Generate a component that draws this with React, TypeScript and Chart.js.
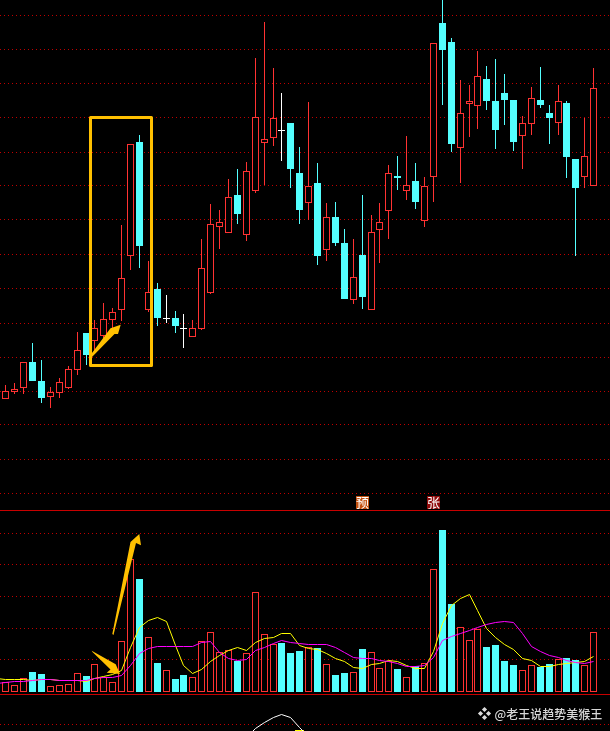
import React, { useEffect, useRef } from "react";
import { Chart, registerables } from "chart.js";

Chart.register(...registerables);

// Daily candles: body top, body bottom, high, low (price units)
const highs = [3.46,3.48,3.69,3.88,3.71,3.44,3.53,3.65,3.99,3.98,4.11,4.28,4.23,5.06,5.87,5.96,4.70,4.48,4.36,4.20,4.17,4.11,4.92,5.27,5.21,5.52,5.62,5.69,6.73,7.09,6.63,6.38,6.08,5.84,6.29,5.68,5.28,5.29,5.02,4.92,5.36,5.16,5.28,5.66,5.75,5.95,5.68,5.54,6.88,7.33,6.93,6.51,6.46,6.80,6.65,6.72,6.57,6.31,6.15,6.44,6.64,6.26,6.46,6.30,5.72,6.13,6.63];
const lows = [3.32,3.37,3.37,3.50,3.28,3.23,3.33,3.42,3.56,3.66,3.79,3.91,4.01,4.10,4.61,4.63,4.19,4.05,4.08,3.98,3.83,3.94,4.01,4.37,4.82,4.98,5.07,4.90,5.38,5.46,5.85,5.70,5.43,5.07,5.11,4.66,4.70,4.85,4.32,4.27,4.22,4.21,4.68,4.92,5.41,5.31,5.22,5.04,5.29,6.26,5.79,5.48,5.94,6.02,6.21,5.82,6.06,5.80,5.62,5.96,6.23,5.87,5.96,5.53,4.75,5.43,5.45];
const opens = [3.32,3.39,3.43,3.69,3.50,3.34,3.38,3.43,3.61,3.98,3.90,3.95,4.11,4.21,4.75,5.89,4.21,4.42,4.12,4.13,4.03,3.94,4.02,4.38,5.04,4.98,5.36,4.96,5.40,5.88,5.93,6.01,6.08,5.58,5.28,5.48,4.81,5.14,4.88,4.31,4.76,4.21,5.01,5.20,5.55,5.40,5.50,5.10,5.54,7.08,6.89,5.83,6.27,6.25,6.52,6.30,6.38,6.31,5.95,6.07,6.31,6.18,6.08,6.28,5.72,5.54,5.45];
const closes = [3.40,3.42,3.69,3.50,3.33,3.39,3.49,3.62,3.81,3.76,4.03,4.12,4.19,4.53,5.87,4.85,4.39,4.13,4.13,4.05,4.02,4.03,4.63,5.07,5.09,5.34,5.17,5.60,6.14,5.92,6.13,6.00,5.62,5.21,5.45,4.75,5.14,4.88,4.32,4.54,4.34,4.99,5.09,5.58,5.53,5.46,5.29,5.45,6.88,6.81,5.87,6.18,6.30,6.55,6.30,6.01,6.31,5.89,6.08,6.33,6.26,6.13,6.30,5.74,5.43,5.75,6.43];

// Volume panel
const volumes = [10,7,14,20,18,6,7,8,19,16,28,15,10,51,133,113,55,29,22,13,17,15,51,60,40,42,31,39,100,58,48,49,39,41,45,44,28,17,19,20,43,40,24,31,23,15,26,29,123,162,88,65,52,63,45,47,31,27,22,27,25,28,33,34,32,27,60];
const volFast = [13,13,13,12,13,13,12,12,12,11,14,16,18,22,45,65,72,75,71,47,27,19,23,31,37,42,45,42,50,54,55,59,59,47,44,43,39,34,31,25,24,28,29,32,31,27,24,24,41,69,87,94,98,82,64,55,48,43,34,32,26,26,28,29,30,31,36];
const volSlow = [10,11,11,12,13,13,12,12,12,12,14,15,15,17,27,39,44,46,46,46,46,46,50,51,40,34,32,33,42,45,49,52,50,49,48,48,48,45,40,35,34,34,32,31,29,26,26,27,35,52,56,59,62,65,68,70,71,70,59,46,41,37,35,32,30,29,31];
const volFastBefore = 14;
const volSlowBefore = 9;

// Lower indicator, just its top is visible
const indicatorIdx = [27,28,29,30,31,32,33,34];
const indicatorVals = [-6,3,9,14,17,14,4,-5];
const indicatorBarIdx = 33;
const indicatorBarVal = 1.2;

// Grid levels
const priceGrid = [7.15,6.81,6.47,6.13,5.79,5.45,5.11,4.76,4.42,4.08,3.74,3.40,3.06,2.72,2.38];
const volumeGrid = [159,128,96,64,33,-32];
const panelEdges = [221,37];

// Signal tags
const tags = [{ text: "预", idx: 40, color: "#C2500F" }, { text: "张", idx: 48, color: "#8E0A0A" }];
const watermark = "@老王说趋势美猴王";

const RED = "#FF3232";
const CYAN = "#54FFFF";
const WHITE = "#FFFFFF";
const ORANGE = "#FFC000";
const GRID = "#C00000";

const idx = highs.map((_, i) => i);
const isDoji = (i: number) => Math.abs(opens[i] - closes[i]) < 0.015;
const candleColor = (i: number) => (isDoji(i) ? WHITE : closes[i] > opens[i] ? RED : CYAN);
const volColor = (i: number) => (closes[i] > opens[i] ? RED : CYAN);

function setTicks(values: number[]) {
  return (scale: any) => {
    scale.ticks = values.map((value) => ({ value }));
  };
}

function axis(min: number, max: number, values: number[], color: string, dash: number[]) {
  return {
    type: "linear",
    position: "left",
    min,
    max,
    afterBuildTicks: setTicks(values),
    afterFit: (s: any) => { s.width = 0; },
    ticks: { display: false },
    border: { display: false, dash },
    grid: { color, lineWidth: 1, drawTicks: false },
  };
}

const snapPlugin = {
  id: "snap",
  afterDatasetsUpdate(chart: any) {
    chart.getSortedVisibleDatasetMetas().forEach((meta: any) => {
      if (meta.type === "bar") {
        const w = chart.data.datasets[meta.index].barThickness;
        meta.data.forEach((el: any) => {
          el.x = Math.floor(el.x) + 0.5;
          el.y = Math.round(el.y);
          el.base = Math.round(el.base);
          el.height = el.base - el.y;
          el.width = w;
        });
      } else if (meta.type === "line") {
        meta.data.forEach((el: any) => {
          el.x = Math.floor(el.x) + 0.5;
          el.y = Math.floor(el.y) + 0.5;
        });
      }
    });
  },
};

function poly(ctx: CanvasRenderingContext2D, pts: number[][]) {
  ctx.beginPath();
  pts.forEach(([x, y], i) => (i ? ctx.lineTo(x, y) : ctx.moveTo(x, y)));
  ctx.closePath();
  ctx.fill();
}

const overlayPlugin = {
  id: "overlay",
  afterDraw(chart: any) {
    const ctx: CanvasRenderingContext2D = chart.ctx;
    const xs = chart.scales.x;
    ctx.save();
    // highlight frame
    ctx.strokeStyle = ORANGE;
    ctx.lineWidth = 3;
    ctx.lineJoin = "round";
    ctx.strokeRect(90.5, 117.5, 61, 248);
    // arrows
    ctx.fillStyle = ORANGE;
    poly(ctx, [[90.5, 355], [110.5, 328.3], [120.7, 324.7], [118, 334], [114.5, 334], [92, 357]]);
    poly(ctx, [[112.3, 634], [130.5, 542], [139.3, 534], [141, 545.3], [136, 543], [113.5, 635]]);
    poly(ctx, [[91.7, 650.7], [115.7, 664.3], [120, 674], [106.7, 672.7], [110.5, 669.5], [92.5, 652]]);
    // tags
    ctx.textAlign = "center";
    ctx.textBaseline = "middle";
    ctx.font = "13px 'Noto Sans CJK SC'";
    tags.forEach((t) => {
      const cx = Math.floor(xs.getPixelForValue(t.idx)) + 0.5;
      ctx.fillStyle = t.color;
      ctx.fillRect(cx - 6.5, 496, 13, 13);
      ctx.fillStyle = "#FFFFFF";
      ctx.fillText(t.text, cx, 502.5);
    });
    // watermark
    const ix = 484.5, iy = 713.5;
    ctx.fillStyle = "#DADADA";
    [[0, -4], [-4, 0], [4, 0], [0, 4]].forEach(([dx, dy]) => {
      poly(ctx, [[ix + dx, iy + dy - 2.6], [ix + dx + 2.6, iy + dy], [ix + dx, iy + dy + 2.6], [ix + dx - 2.6, iy + dy]]);
    });
    ctx.textAlign = "left";
    ctx.font = "500 12px 'Noto Sans CJK SC'";
    ctx.fillStyle = "#D8D8D8";
    ctx.fillText(watermark, 494.5, 714);
    ctx.restore();
  },
};

export default function App() {
  const ref = useRef<HTMLCanvasElement>(null);
  useEffect(() => {
    document.body.style.margin = "0";
    document.body.style.background = "#000";
    const chart = new Chart(ref.current as HTMLCanvasElement, {
      type: "bar",
      data: {
        datasets: [
          {
            label: "wick",
            yAxisID: "price",
            order: 6,
            grouped: false,
            barThickness: 1,
            inflateAmount: 0,
            borderWidth: 0,
            backgroundColor: idx.map(candleColor),
            data: idx.map((i) => ({ x: i, y: [lows[i], highs[i]] })),
          },
          {
            label: "body",
            yAxisID: "price",
            order: 5,
            grouped: false,
            barThickness: 7,
            inflateAmount: 0,
            borderWidth: 1,
            borderSkipped: false,
            borderColor: idx.map(candleColor),
            backgroundColor: idx.map((i) => (candleColor(i) === RED ? "#000000" : candleColor(i))),
            data: idx.map((i) => ({ x: i, y: [opens[i], closes[i]] })),
          },
          {
            label: "volume",
            yAxisID: "volume",
            order: 4,
            grouped: false,
            barThickness: 7,
            inflateAmount: 0,
            borderWidth: 1,
            borderSkipped: false,
            borderColor: idx.map(volColor),
            backgroundColor: idx.map((i) => (volColor(i) === RED ? "#000000" : CYAN)),
            data: idx.map((i) => ({ x: i, y: volumes[i] })),
          },
          {
            type: "line",
            label: "MA5",
            yAxisID: "volume",
            order: 2,
            borderColor: "#FFFF00",
            borderWidth: 1,
            pointRadius: 0,
            tension: 0,
            data: [{ x: -1, y: volFastBefore }, ...idx.map((i) => ({ x: i, y: volFast[i] }))],
          },
          {
            type: "line",
            label: "MA10",
            yAxisID: "volume",
            order: 1,
            borderColor: "#FF00FF",
            borderWidth: 1,
            pointRadius: 0,
            tension: 0,
            data: [{ x: -1, y: volSlowBefore }, ...idx.map((i) => ({ x: i, y: volSlow[i] }))],
          },
          {
            type: "line",
            label: "indicator",
            yAxisID: "lower",
            order: 3,
            borderColor: WHITE,
            borderWidth: 1,
            pointRadius: 0,
            tension: 0,
            data: indicatorIdx.map((i, k) => ({ x: i, y: indicatorVals[k] })),
          },
          {
            label: "indicatorBar",
            yAxisID: "lower",
            order: 3,
            grouped: false,
            barThickness: 9,
            inflateAmount: 0,
            borderWidth: 0,
            backgroundColor: "#FFFF00",
            data: [{ x: indicatorBarIdx, y: indicatorBarVal }],
          },
        ],
      } as any,
      options: {
        animation: false,
        responsive: false,
        maintainAspectRatio: false,
        layout: { padding: 0 },
        plugins: { legend: { display: false }, tooltip: { enabled: false } },
        scales: {
          x: { type: "linear", display: false, offset: false, min: -5.85 / 8.907, max: (610 - 5.85) / 8.907 },
          price: axis(0, 7.31, priceGrid, GRID, [1, 3]),
          volume: axis(-39, 692, volumeGrid, GRID, [1, 3]),
          lower: axis(0, 731, panelEdges, "#C80000", []),
        },
      } as any,
      plugins: [snapPlugin, overlayPlugin],
    });
    return () => chart.destroy();
  }, []);
  return <canvas ref={ref} width={610} height={731} style={{ display: "block", background: "#000" }} />;
}
